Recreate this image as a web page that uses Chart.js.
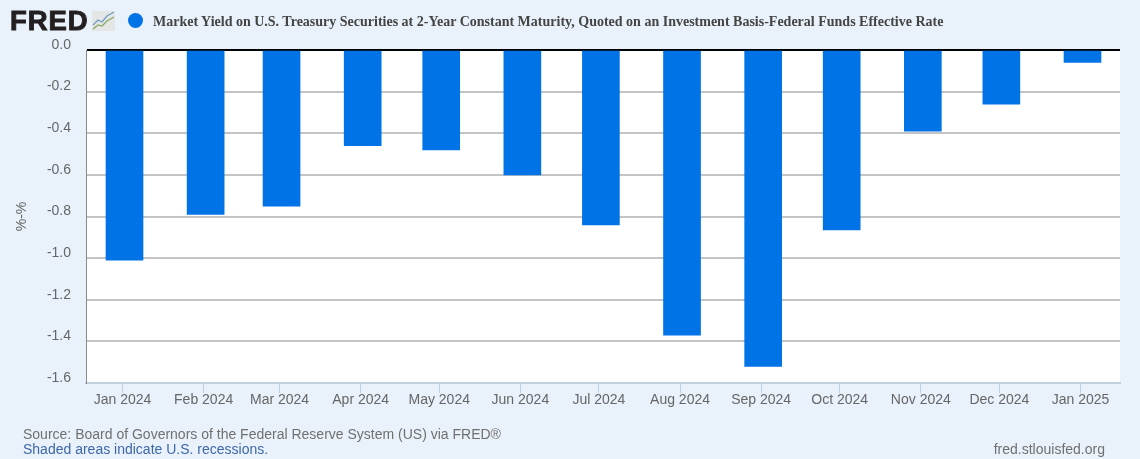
<!DOCTYPE html>
<html>
<head>
<meta charset="utf-8">
<title>FRED spread</title>
<script src="https://cdn.jsdelivr.net/npm/chart.js@4"></script>
<style>
  html, body { margin: 0; padding: 0; background: #e9f2fb; }
  #wrap { position: relative; width: 1140px; height: 459px; overflow: hidden; background: #e9f2fb; font-family: "Liberation Sans", Arial, sans-serif; }
  #chart-box { position: absolute; left: 0; top: 0; width: 1140px; height: 459px; }
  .abs { position: absolute; white-space: nowrap; }
  #logo { left: 10px; top: 3px; font-size: 27.5px; font-weight: bold; color: #231f20; letter-spacing: 0.9px; line-height: 36px; -webkit-text-stroke: 0.9px #231f20; }
  #spark { left: 92px; top: 11px; }
  #dot { left: 128px; top: 13px; width: 15px; height: 15px; border-radius: 50%; background: #0073e6; }
  #title { left: 153px; top: 14px; font-family: "Liberation Serif", serif; font-weight: bold; font-size: 14px; line-height: 15px; color: #444; }
  #source { left: 23px; top: 426px; font-size: 14px; line-height: 16px; color: #707070; }
  #recession { left: 23px; top: 441px; font-size: 14px; line-height: 16px; color: #3d68a8; }
  #site { right: 35px; top: 441px; font-size: 14px; line-height: 16px; color: #707070; }
</style>
</head>
<body>
<div id="wrap">
  <div id="chart-box"><canvas id="chart"></canvas></div>
  <div id="logo" class="abs">FRED</div>
  <svg id="spark" class="abs" width="23" height="20" viewBox="0 0 23 20">
    <rect width="23" height="20" rx="1" fill="#e3e6e4"/>
    <polyline points="1,14 6,9 10,11 15,5 22,1" fill="none" stroke="#6f9bc4" stroke-width="1.2"/>
    <polyline points="1,18 6,14 10,15 15,10 22,6" fill="none" stroke="#8aa860" stroke-width="1.2"/>
  </svg>
  <div id="dot" class="abs"></div>
  <div id="title" class="abs">Market Yield on U.S. Treasury Securities at 2-Year Constant Maturity, Quoted on an Investment Basis-Federal Funds Effective Rate</div>
  <div id="source" class="abs">Source: Board of Governors of the Federal Reserve System (US) via FRED®</div>
  <div id="recession" class="abs">Shaded areas indicate U.S. recessions.</div>
  <div id="site" class="abs">fred.stlouisfed.org</div>
</div>
<script>
const months = ["2024-01-01", "2024-02-01", "2024-03-01", "2024-04-01", "2024-05-01", "2024-06-01", "2024-07-01",
  "2024-08-01", "2024-09-01", "2024-10-01", "2024-11-01", "2024-12-01", "2025-01-01"];
const monthLabels = ["Jan 2024", "Feb 2024", "Mar 2024", "Apr 2024", "May 2024", "Jun 2024", "Jul 2024",
  "Aug 2024", "Sep 2024", "Oct 2024", "Nov 2024", "Dec 2024", "Jan 2025"];
const spread = [-1.01, -0.79, -0.75, -0.46, -0.48, -0.60, -0.84, -1.37, -1.52, -0.865, -0.39, -0.26, -0.06];

const DAY = 86400000;
const monthDays = months.map((month) => Date.parse(month) / DAY);

const PLOT_LEFT = 86;
const PLOT_RIGHT = 1120;
const PLOT_TOP = 50;
const PLOT_BOTTOM = 383;
const TEXT_COLOR = "#666666";
const AXIS_COLOR = "#c0d0e0";

// px per day, taken from the distance between the first and last bar
const pxPerDay = 958 / (monthDays[12] - monthDays[0]);
const xMin = monthDays[0] - (124.5 - PLOT_LEFT) / pxPerDay;
const xMax = monthDays[0] + (PLOT_RIGHT - 124.5) / pxPerDay;
// FRED draws its tick marks about 2px left of the bar centres
const tickShift = 2 / pxPerDay;

const plotBackground = {
  id: "plotBackground",
  beforeDraw(chart) {
    const { ctx, chartArea } = chart;
    ctx.save();
    ctx.fillStyle = "#ffffff";
    ctx.fillRect(chartArea.left, chartArea.top, chartArea.width, chartArea.height);
    ctx.restore();
  },
};

new Chart(document.getElementById("chart"), {
  type: "bar",
  data: {
    datasets: [
      {
        label: "Spread",
        data: monthDays.map((day, i) => ({ x: day, y: spread[i] })),
        backgroundColor: "#0073e6",
        borderWidth: 0,
        barThickness: 37,
      },
    ],
  },
  plugins: [plotBackground],
  options: {
    responsive: true,
    maintainAspectRatio: false,
    animation: false,
    layout: { padding: { top: PLOT_TOP, left: 0, right: 1140 - PLOT_RIGHT, bottom: 0 } },
    plugins: { legend: { display: false }, tooltip: { enabled: false } },
    scales: {
      x: {
        type: "linear",
        position: "bottom",
        offset: false,
        min: xMin,
        max: xMax,
        afterBuildTicks(scale) {
          scale.ticks = monthDays.map((value) => ({ value: value - tickShift }));
        },
        afterFit(scale) {
          scale.height = 459 - PLOT_BOTTOM;
        },
        grid: { offset: false, drawOnChartArea: false, drawTicks: true, tickLength: 10, color: AXIS_COLOR, lineWidth: 1 },
        border: { display: true, color: AXIS_COLOR, width: 2 },
        ticks: {
          autoSkip: false,
          maxRotation: 0,
          padding: -1,
          color: TEXT_COLOR,
          font: { family: "'Liberation Sans', Arial, sans-serif", size: 14 },
          callback: (value, index) => monthLabels[index],
        },
      },
      y: {
        min: -1.6,
        max: 0,
        afterFit(scale) {
          scale.width = PLOT_LEFT;
        },
        title: {
          display: true,
          text: "%-%",
          color: TEXT_COLOR,
          font: { family: "'Liberation Sans', Arial, sans-serif", size: 14 },
          padding: { top: 14, bottom: 0 },
        },
        grid: {
          drawTicks: false,
          lineWidth: 2,
          color: (ctx) => (ctx.tick && ctx.tick.value === 0 ? "#000000" : "#c4c4c4"),
        },
        border: { display: true, color: "#8a8a8a", width: 1 },
        ticks: {
          stepSize: 0.2,
          padding: 15,
          color: TEXT_COLOR,
          font: { family: "'Liberation Sans', Arial, sans-serif", size: 14, lineHeight: 0.72 },
          // blank second line lifts the label above its gridline, FRED style
          callback: (value) => [Number(value).toFixed(1), ""],
        },
      },
    },
  },
});
</script>
</body>
</html>
